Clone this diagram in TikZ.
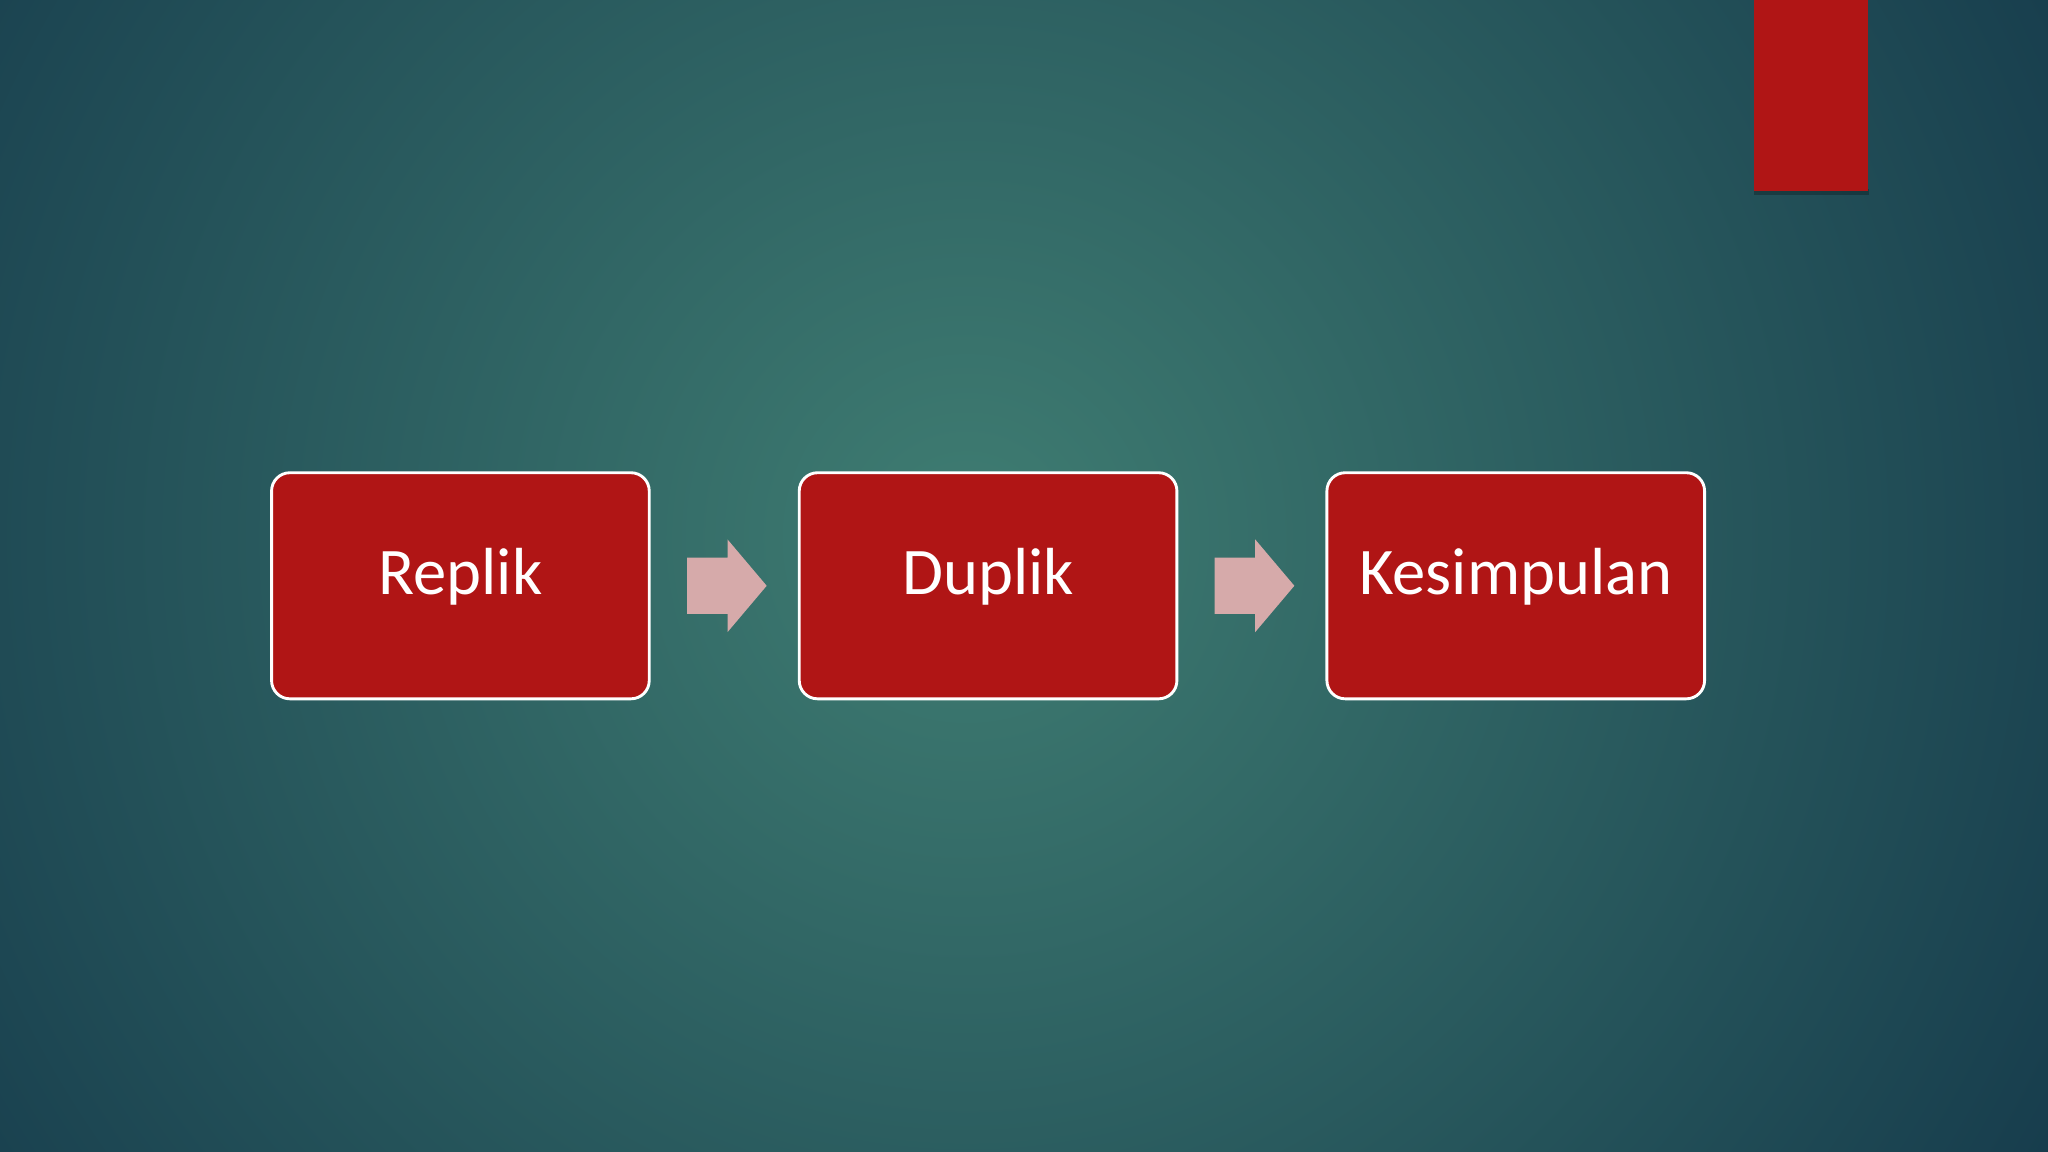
\documentclass[tikz,border=0pt]{standalone}
\usepackage{fontspec}
\setmainfont{Carlito}
\definecolor{bgin}{HTML}{3F7D72}
\definecolor{bgout}{HTML}{173D4D}
\definecolor{boxred}{HTML}{B01515}
\definecolor{arrowpink}{HTML}{D6AAAA}
\tikzset{
  stepbox/.style={draw=white, line width=0.22mm, fill=boxred, rounded corners=0.14cm,
    minimum width=2.89cm, minimum height=1.73cm, inner sep=0pt},
  steplabel/.style={text=white, font=\fontsize{14.5}{17}\selectfont},
  chev/.style={fill=arrowpink, draw=none}
}
\begin{document}
\begin{tikzpicture}[x=0.01cm,y=0.01cm]
\useasboundingbox (0,0) rectangle (1568,882);
\begin{scope}
\clip (0,0) rectangle (1568,882);
\fill[bgout] (0,0) rectangle (1568,882);
\shade[inner color=bgin, outer color=bgout] (740,470) circle (950);
\fill[black,opacity=0.25] (1343,733) rectangle (1431,737);
\fill[boxred] (1343,736) rectangle (1430,882);
\end{scope}
\node[stepbox] (a) at (352.5,433.5) {};
\node[stepbox] (b) at (756.5,433.5) {};
\node[stepbox] (c) at (1160.5,433.5) {};
\node[steplabel] (ta) at ([yshift=0.07cm]a.center) {Replik};
\node[steplabel] (tb) at ([yshift=0.07cm]b.center) {Duplik};
\node[steplabel] (tc) at ([yshift=0.07cm]c.center) {Kesimpulan};
\fill[chev] (526,455) -- (557,455) -- (557,469) -- (587,433.5) -- (557,398) -- (557,412) -- (526,412) -- cycle;
\fill[chev] (930,455) -- (961,455) -- (961,469) -- (991,433.5) -- (961,398) -- (961,412) -- (930,412) -- cycle;
\end{tikzpicture}
\end{document}
